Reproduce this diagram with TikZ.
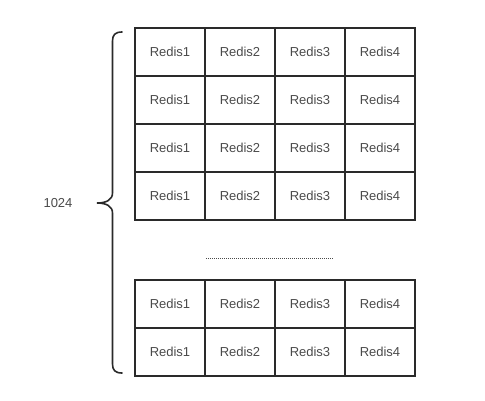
\documentclass[tikz,border=0pt]{standalone}
\usepackage{fontspec}
\setmainfont{Liberation Sans}
\usepackage{tikz}
\usetikzlibrary{positioning}
\definecolor{linegray}{HTML}{2A2A2A}
\definecolor{textgray}{HTML}{4A4A4A}

\begin{document}
\begin{tikzpicture}[x=1pt,y=-1pt,
    cell/.style={draw=linegray, line width=1.4pt, minimum width=70pt, minimum height=48pt,
      inner sep=0pt, text=textgray, font=\fontsize{13}{15}\selectfont},
    brace/.style={draw=linegray, line width=1.6pt, line cap=round}]
    \useasboundingbox (0,0) rectangle (485,400);
    % Upper block
    \foreach \r in {1,...,4}{
      \foreach \c in {1,...,4}{
        \node[cell] (up\r\c) at ({100+70*\c},{4+48*\r}) {Redis\c};
      }
    }
    % Lower block
    \foreach \r in {1,2}{
      \foreach \c in {1,...,4}{
        \node[cell] (low\r\c) at ({100+70*\c},{256+48*\r}) {Redis\c};
      }
    }
    % Ellipsis
    \coordinate (dotl) at (206,258);
    \coordinate (dotr) at (334,258);
    \draw[textgray, line width=0.9pt, dash pattern=on 1pt off 1pt] (dotl) -- (dotr);
    % Brace
    \coordinate (bracetop) at (122,32);
    \coordinate (bracetip) at (97,203);
    \coordinate (bracebot) at (122,373);
    \draw[brace] (bracetop) .. controls (115,32) and (112.5,35) .. (112.5,41)
      -- (112.5,193) .. controls (112.5,200) and (106,203) .. (bracetip)
      .. controls (106,203) and (112.5,206) .. (112.5,213)
      -- (112.5,364) .. controls (112.5,370) and (115,373) .. (bracebot);
    \node[text=textgray, font=\fontsize{13}{15}\selectfont] (count) at (58,203) {1024};
\end{tikzpicture}
\end{document}
